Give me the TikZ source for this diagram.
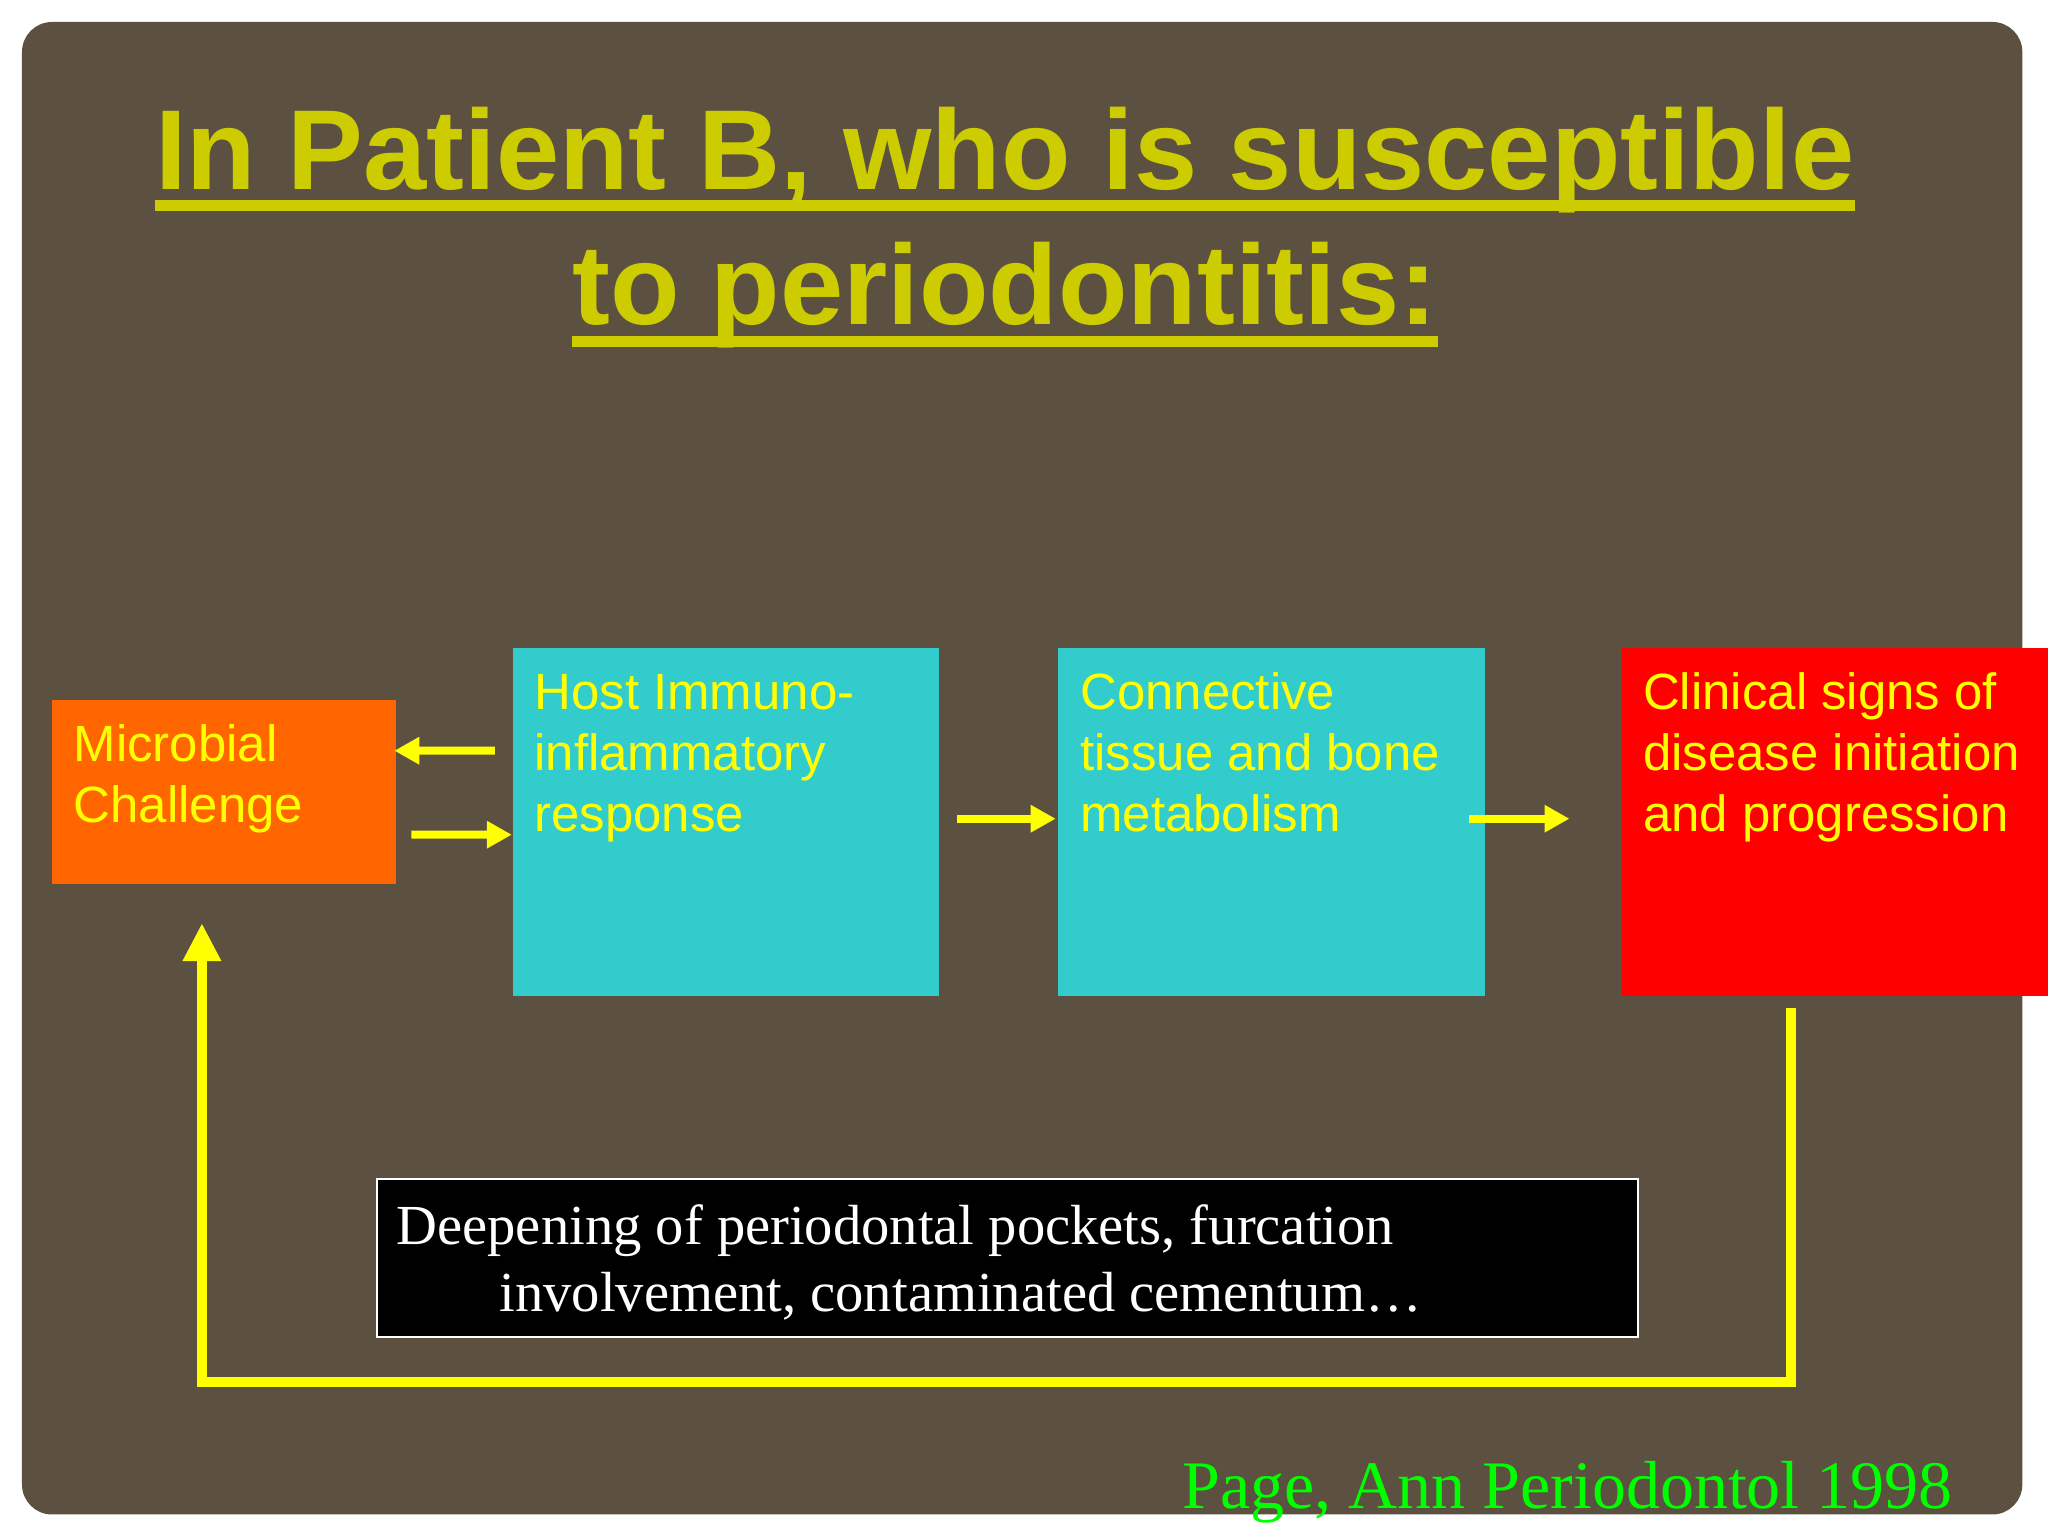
\documentclass[tikz,border=0pt]{standalone}
\usepackage{fontspec}
\setmainfont{Liberation Serif}
\setsansfont{Liberation Sans}
\usepackage{xcolor}
\usetikzlibrary{
    positioning,
    arrows.meta,
}
\definecolor{slidebrown}{RGB}{92,80,64}
\definecolor{titleolive}{RGB}{204,204,0}
\definecolor{boxcyan}{RGB}{51,204,204}
\definecolor{boxorange}{RGB}{255,102,0}
\definecolor{boxred}{RGB}{255,0,0}
\definecolor{arrowyellow}{RGB}{255,255,0}
\definecolor{citegreen}{RGB}{0,255,0}
\tikzset{
    % Block styles
    block/.style={rectangle, anchor=north west, inner sep=0pt, draw=none},
    orange block/.style={block, fill=boxorange, minimum width=34.4mm, minimum height=18.4mm},
    cyan block/.style={block, fill=boxcyan, minimum width=42.7mm, minimum height=34.8mm},
    red block/.style={block, fill=boxred, minimum width=42.6mm, minimum height=34.8mm},
    note box/.style={rectangle, anchor=north west, inner sep=0pt, fill=black, draw=white,
                     line width=0.2mm, minimum width=126.2mm, minimum height=15.8mm},
    % Text styles
    title text/.style={anchor=base, inner sep=0pt, text=titleolive,
                       font=\sffamily\bfseries\fontsize{32.35}{38.8}\selectfont},
    title line/.style={titleolive, line width=1.1mm},
    box text/.style={anchor=north west, inner sep=0pt, align=left, text=arrowyellow,
                     font=\sffamily\fontsize{14.5}{17.36}\selectfont},
    note text/.style={anchor=north west, inner sep=0pt, align=left, text=white,
                      font=\fontsize{16.1}{19.06}\selectfont},
    cite text/.style={anchor=base west, inner sep=0pt, text=citegreen,
                      font=\fontsize{19.35}{23}\selectfont},
}

\begin{document}
\begin{tikzpicture}[
    arrow/.style={-{Triangle[length=2.5mm, width=2.6mm]}, line width=0.8mm, arrowyellow},
    feedback/.style={-{Triangle[length=3.8mm, width=3.6mm]}, line width=1mm, arrowyellow, line join=miter},
]
    % Canvas and slide
    \fill[white] (0, 0) rectangle (20.48, 15.36);
    \fill[slidebrown, rounded corners=3mm] (0.22, 0.21) rectangle (20.23, 15.14);

    % Title
    \node[title text] (title1) at (10.05, 13.46) {In Patient B, who is susceptible};
    \node[title text] (title2) at (10.05, 12.11) {to periodontitis:};
    \draw[title line] ([yshift=-1.6mm]title1.base west) -- ([yshift=-1.6mm]title1.base east);
    \draw[title line] ([yshift=-1.7mm]title2.base west) -- ([yshift=-1.7mm]title2.base east);

    % Blocks
    \node[orange block] (microbial) at (0.51, 8.36) {};
    \node[cyan block] (host) at (5.12, 8.88) {};
    \node[cyan block] (connective) at (10.58, 8.88) {};
    \node[red block] (clinical) at (16.22, 8.88) {};

    % Block texts
    \node[box text] (microbial text) at ([shift={(2.2mm,-2.1mm)}]microbial.north west)
        {\rule{0pt}{4mm}Microbial\\Challenge};
    \node[box text] (host text) at ([shift={(2.2mm,-2.1mm)}]host.north west)
        {\rule{0pt}{4mm}Host Immuno-\\inflammatory\\response};
    \node[box text] (connective text) at ([shift={(2.2mm,-2.1mm)}]connective.north west)
        {\rule{0pt}{4mm}Connective\\tissue and bone\\metabolism};
    \node[box text] (clinical text) at ([shift={(2.1mm,-2.1mm)}]clinical.north west)
        {\rule{0pt}{4mm}Clinical signs of\\disease initiation\\and progression};

    % Arrows
    \draw[arrow] ([shift={(-1.7mm,-10.3mm)}]host.north west) -- ([shift={(-0.2mm,-5.1mm)}]microbial.north east);
    \draw[arrow] ([shift={(1.5mm,-13.5mm)}]microbial.north east) -- ([yshift=-18.7mm]host.north west);
    \draw[arrow] ([shift={(1.7mm,-17.1mm)}]host.north east) -- ([shift={(-0.2mm,-17.1mm)}]connective.north west);
    \draw[arrow] ([shift={(-1.7mm,-17.1mm)}]connective.north east) -- ([shift={(-5.2mm,-17.1mm)}]clinical.north west);

    % Feedback loop
    \coordinate (fb start) at ([shift={(17mm,-1.1mm)}]clinical.south west);
    \coordinate (fb end) at ([shift={(15.1mm,-3.8mm)}]microbial.south west);
    \coordinate (fb base) at (0, 1.54);
    \draw[feedback] (fb start) -- (fb start |- fb base) -- (fb end |- fb base) -- (fb end);

    % Note box
    \node[note box] (note) at (3.76, 3.58) {};
    \node[note text] (note text) at ([shift={(2.0mm,-2.1mm)}]note.north west)
        {\rule{0pt}{4.5mm}Deepening of periodontal pockets, furcation\\
         \hspace*{10.3mm}involvement, contaminated cementum…};

    % Citation
    \node[cite text] (cite) at (11.82, 0.27) {Page, Ann Periodontol 1998};
\end{tikzpicture}
\end{document}
